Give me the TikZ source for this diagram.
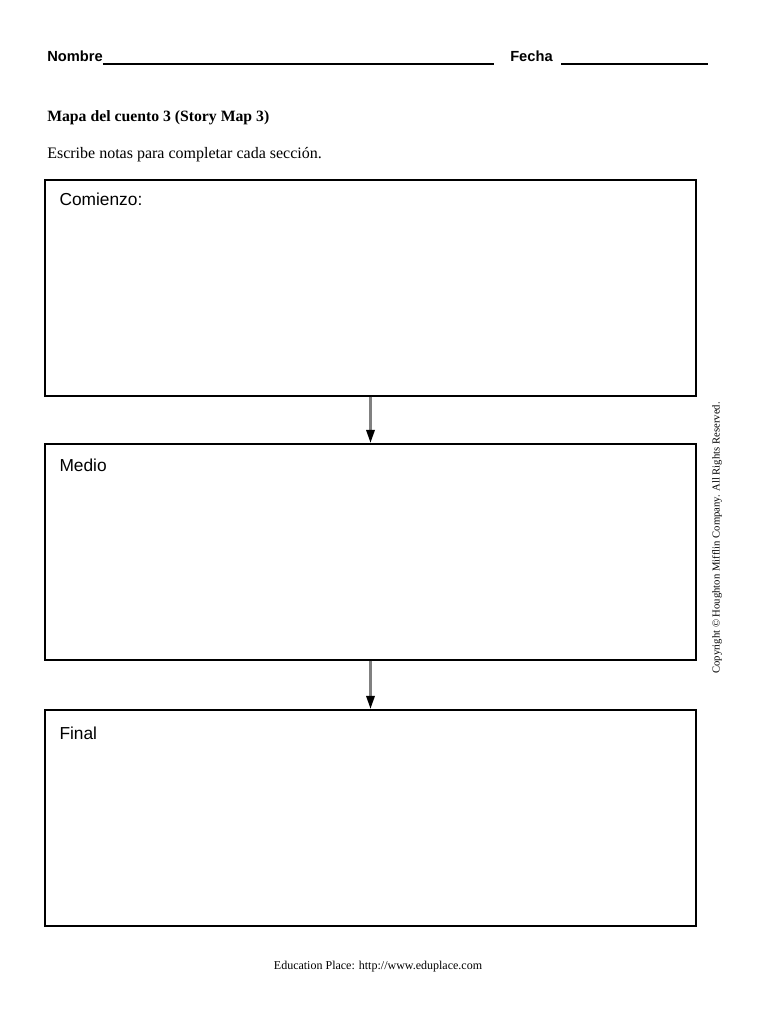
\documentclass[tikz,border=0pt]{standalone}
\usepackage{fontspec}
\setmainfont{Liberation Serif}
\setsansfont{Liberation Sans}
\usetikzlibrary{arrows.meta,positioning,calc}
\newcommand{\boxwd}{488.25pt}
\newcommand{\boxht}{162pt}
\tikzset{storybox/.style={draw, line width=1.1pt, minimum width=\boxwd, minimum height=\boxht, inner sep=0pt}}
\tikzset{boxlabel/.style={anchor=base west, inner sep=0pt, font=\sffamily\fontsize{13}{15}\selectfont}}
\tikzset{headtxt/.style={anchor=base west, inner sep=0pt, font=\sffamily\bfseries\fontsize{11}{13}\selectfont}}
\tikzset{flecha/.style={-{Triangle[length=10pt,width=6pt,color=black]}, line width=2.2pt, draw=black!50}}

\begin{document}
\begin{tikzpicture}[x=0.75pt, y=-0.75pt]
\useasboundingbox (0,0) rectangle (768,1024);

%\draw[help lines] (0,0) grid[step=50] (768,1024);

% cabecera
\node[headtxt] (nombre) at (47,62) {Nombre};
\node[headtxt] (fecha) at (510,62) {Fecha};
\coordinate (nombrefin) at (494,64);
\coordinate (fechaini) at (561,64);
\coordinate (fechafin) at (708,64);
\draw[line width=0.8pt] (nombre.base east |- nombrefin) -- (nombrefin);
\draw[line width=0.8pt] (fechaini) -- (fechafin);

\node[anchor=base west, inner sep=0pt, font=\bfseries\fontsize{11.8}{14}\selectfont] (titulo) at (47,121) {Mapa del cuento 3 (Story Map 3)};
\node[anchor=base west, inner sep=0pt, font=\fontsize{12}{14}\selectfont] (instr) at (47,158) {Escribe notas para completar cada sección.};

% las tres secciones
\node[storybox] (comienzo) at (370.5,288) {};
\node[storybox] (medio) at (370.5,552) {};
\node[storybox] (final) at (370.5,818) {};

\node[boxlabel] at ($(comienzo.north west)+(15,26)$) {Comienzo:};
\node[boxlabel] at ($(medio.north west)+(15,28)$) {Medio};
\node[boxlabel] at ($(final.north west)+(15,30)$) {Final};

\draw[flecha] (comienzo.south) -- (medio.north);
\draw[flecha] (medio.south) -- (final.north);

%\draw[dotted] (comienzo.north east) -- (final.south east);

\node[rotate=90, inner sep=0pt, font=\fontsize{8}{10}\selectfont] (copy) at (717,538) {Copyright © Houghton Mifflin Company. All Rights Reserved.};
\node[anchor=base, inner sep=0pt, font=\fontsize{9}{11}\selectfont] (pie) at (378,969) {Education Place: http://www.eduplace.com};

\end{tikzpicture}
\end{document}
